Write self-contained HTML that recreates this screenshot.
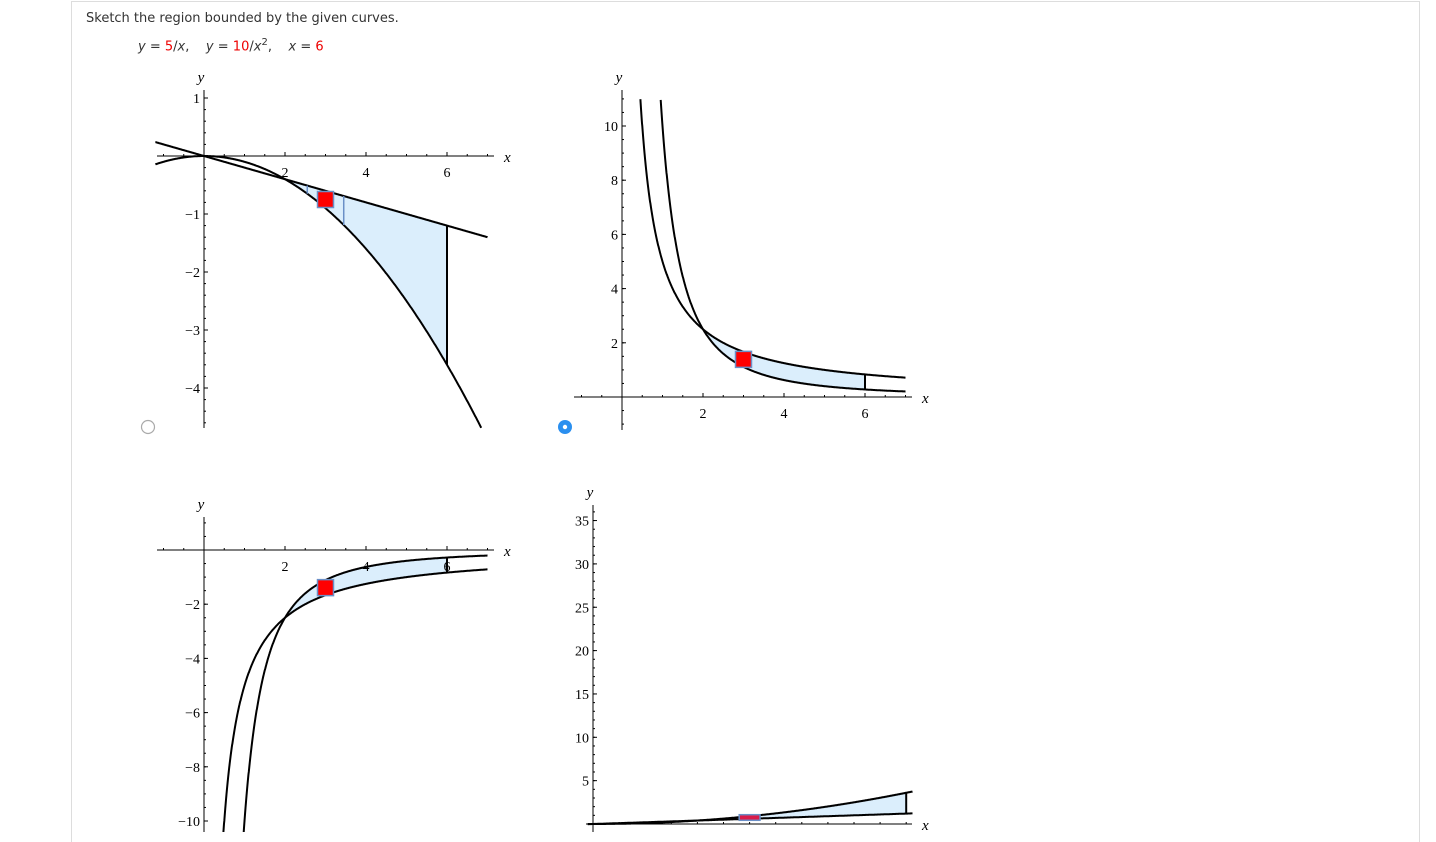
<!DOCTYPE html>
<html><head><meta charset="utf-8"><style>
body{margin:0;background:#fff;width:1436px;height:832px;overflow:hidden;font-family:Verdana,"DejaVu Sans",sans-serif;}
#card{position:absolute;left:71px;top:1px;width:1347px;height:840px;border:1px solid #ddd;border-bottom:none;}
#q{position:absolute;left:86px;top:11px;font-size:13px;color:#333;}
#eq{position:absolute;left:138px;top:37px;font-size:13px;color:#333;}
.r{color:#e00}
svg{position:absolute;left:0;top:0}
</style></head><body>
<div id="card"></div>
<div id="q">Sketch the region bounded by the given curves.</div>
<div id="eq"><i>y</i> = <span class="r">5</span>/<i>x</i>, &nbsp;&nbsp; <i>y</i> = <span class="r">10</span>/<i>x</i><sup style="font-size:10px">2</sup>, &nbsp;&nbsp; <i>x</i> = <span class="r">6</span></div>
<svg id="s" width="1436" height="832" xmlns="http://www.w3.org/2000/svg"></svg>
<script>
// chart data: curve families y = a*x^p, region bounds, tick labels
const curvesA = [[-0.2,1],[-0.1,2]];
const curvesB = [[5,-1],[10,-2]];
const curvesC = [[-5,-1],[-10,-2]];
const curvesD = [[0.2,1],[0.1,2]];
const regionX = [2,6];
const markerX = 3;
const xTicksA = [2,4,6];
const yTicksA = [1,-1,-2,-3,-4];
const yTicksB = [2,4,6,8,10];
const yTicksC = [-2,-4,-6,-8,-10];
const yTicksD = [5,10,15,20,25,30,35];

const S=document.getElementById('s'),NS='http://www.w3.org/2000/svg';
const FF='"Liberation Serif", serif';
function el(t,a,p){const e=document.createElementNS(NS,t);for(const k in a)e.setAttribute(k,a[k]);(p||S).appendChild(e);return e;}
function plot(c){
  const g=el('g',{});
  
  
  const X=x=>c.ox+x*c.sx, Y=y=>c.oy-y*c.sy;
  const f=(k,x)=>k[0]*Math.pow(x,k[1]);
  let pts=[];
  for(let x=regionX[0];x<=regionX[1]+1e-9;x+=0.05)pts.push([X(x),Y(f(c.curves[0],x))]);
  for(let x=regionX[1];x>=regionX[0]-1e-9;x-=0.05)pts.push([X(x),Y(f(c.curves[1],x))]);
  const rf=el('polygon',{points:pts.map(p=>p.join(',')).join(' '),fill:'#dbeefc',stroke:'none'},g);
  
  
  el('line',{x1:c.xa[0],y1:c.oy,x2:c.xa[1],y2:c.oy,stroke:'#000','stroke-width':1},g);
  el('line',{x1:c.ox,y1:c.ya[0],x2:c.ox,y2:c.ya[1],stroke:'#000','stroke-width':1},g);
  for(let v=Math.ceil((c.xa[0]-c.ox)/c.sx/0.5)*0.5;X(v)<=c.xa[1];v+=0.5){ if(Math.abs(v)<1e-9)continue;
    el('line',{x1:X(v),y1:c.oy-2,x2:X(v),y2:c.oy,stroke:'#000','stroke-width':1},g);}
  for(let v=Math.ceil((c.oy-c.ya[1])/c.sy/c.ym)*c.ym;Y(v)>=c.ya[0];v+=c.ym){
    el('line',{x1:c.ox,y1:Y(v),x2:c.ox+2,y2:Y(v),stroke:'#000','stroke-width':1},g);}
  (c.xt||[]).forEach(v=>{el('line',{x1:X(v),y1:c.oy-4,x2:X(v),y2:c.oy,stroke:'#000'},g);
    const t=el('text',{x:X(v),y:c.oy+21,'text-anchor':'middle','font-size':14,'font-family':FF},g);t.textContent=v;});
  c.yt.forEach(v=>{el('line',{x1:c.ox,y1:Y(v),x2:c.ox+4,y2:Y(v),stroke:'#000'},g);
    const t=el('text',{x:c.ox-4,y:Y(v)+5,'text-anchor':'end','font-size':14,'font-family':FF},g);t.textContent=(v<0?'\u2212'+(-v):v);});
  let t=el('text',{x:c.xa[1]+10,y:c.oy+6,'font-size':15,'font-style':'italic','font-family':FF},g);t.textContent='x';
  t=el('text',{x:c.ox-3,y:c.ya[0]-8,'text-anchor':'middle','font-size':15,'font-style':'italic','font-family':FF},g);t.textContent='y';
  c.curves.forEach((k,i)=>{let d='',first=true;
    for(let x=c.cx[0];x<=c.cx[1];x+=0.005){
      const y=f(k,x),py=Y(y); if(!isFinite(py)||py<c.clip[0]||py>c.clip[1]){first=true;continue;}
      d+=(first?'M':'L')+X(x).toFixed(1)+','+py.toFixed(1);first=false;}
    const p=el('path',{d:d,fill:'none',stroke:'#000','stroke-width':2},g);
    
    });
  const b=el('line',{x1:X(regionX[1]),y1:Y(f(c.curves[0],regionX[1])),x2:X(regionX[1]),y2:Y(f(c.curves[1],regionX[1])),stroke:'#000','stroke-width':2},g);
  
  
  const my=(Y(f(c.curves[0],markerX))+Y(f(c.curves[1],markerX)))/2;
  const m=el('rect',{x:X(markerX)-8*c.ms[0],y:my-8*c.ms[1],width:16*c.ms[0],height:16*c.ms[1],fill:c.mc||'#f00',stroke:'#6a8fc7','stroke-width':1.5},g);
  
  
  return {g,X,Y,f};
}
const p1=plot({name:'plot-a',ox:204,oy:156,sx:40.5,sy:58,xa:[157,494],ya:[90,428],ym:0.2,xt:xTicksA,yt:yTicksA,curves:curvesA,cx:[-1.2,7.0],clip:[90,428],ms:[1,1]});
[2.55,3.45].forEach(x=>{el('line',{x1:p1.X(x),y1:p1.Y(p1.f(curvesA[0],x)),x2:p1.X(x),y2:p1.Y(p1.f(curvesA[1],x)),stroke:'#6a8fc7','stroke-width':1.5},p1.g);});
plot({name:'plot-b',ox:622,oy:397,sx:40.5,sy:27.1,xa:[574,912],ya:[90,430],ym:0.5,xt:xTicksA,yt:yTicksB,curves:curvesB,cx:[0.3,7.0],clip:[97,430],ms:[1,1]});
plot({name:'plot-c',ox:204,oy:550,sx:40.5,sy:27.1,xa:[157,494],ya:[517,832],ym:0.5,xt:xTicksA,yt:yTicksC,curves:curvesC,cx:[0.3,7.0],clip:[517,840],ms:[1,1]});
plot({name:'plot-d',ox:593,oy:824,sx:52.2,sy:8.67,xa:[586,912],ya:[505,832],ym:1,xt:[],yt:yTicksD,curves:curvesD,cx:[-0.1,6.12],clip:[505,832],ms:[1.3,0.35],mc:'#d81b4a'});
const r1=el('circle',{cx:148,cy:427,r:6.5,fill:'#fff',stroke:'#aaa','stroke-width':1.2});


const r2=el('circle',{cx:565,cy:427,r:7,fill:'#2a8fef'});


el('circle',{cx:565,cy:427,r:2.2,fill:'#fff'});
</script>
</body></html>
